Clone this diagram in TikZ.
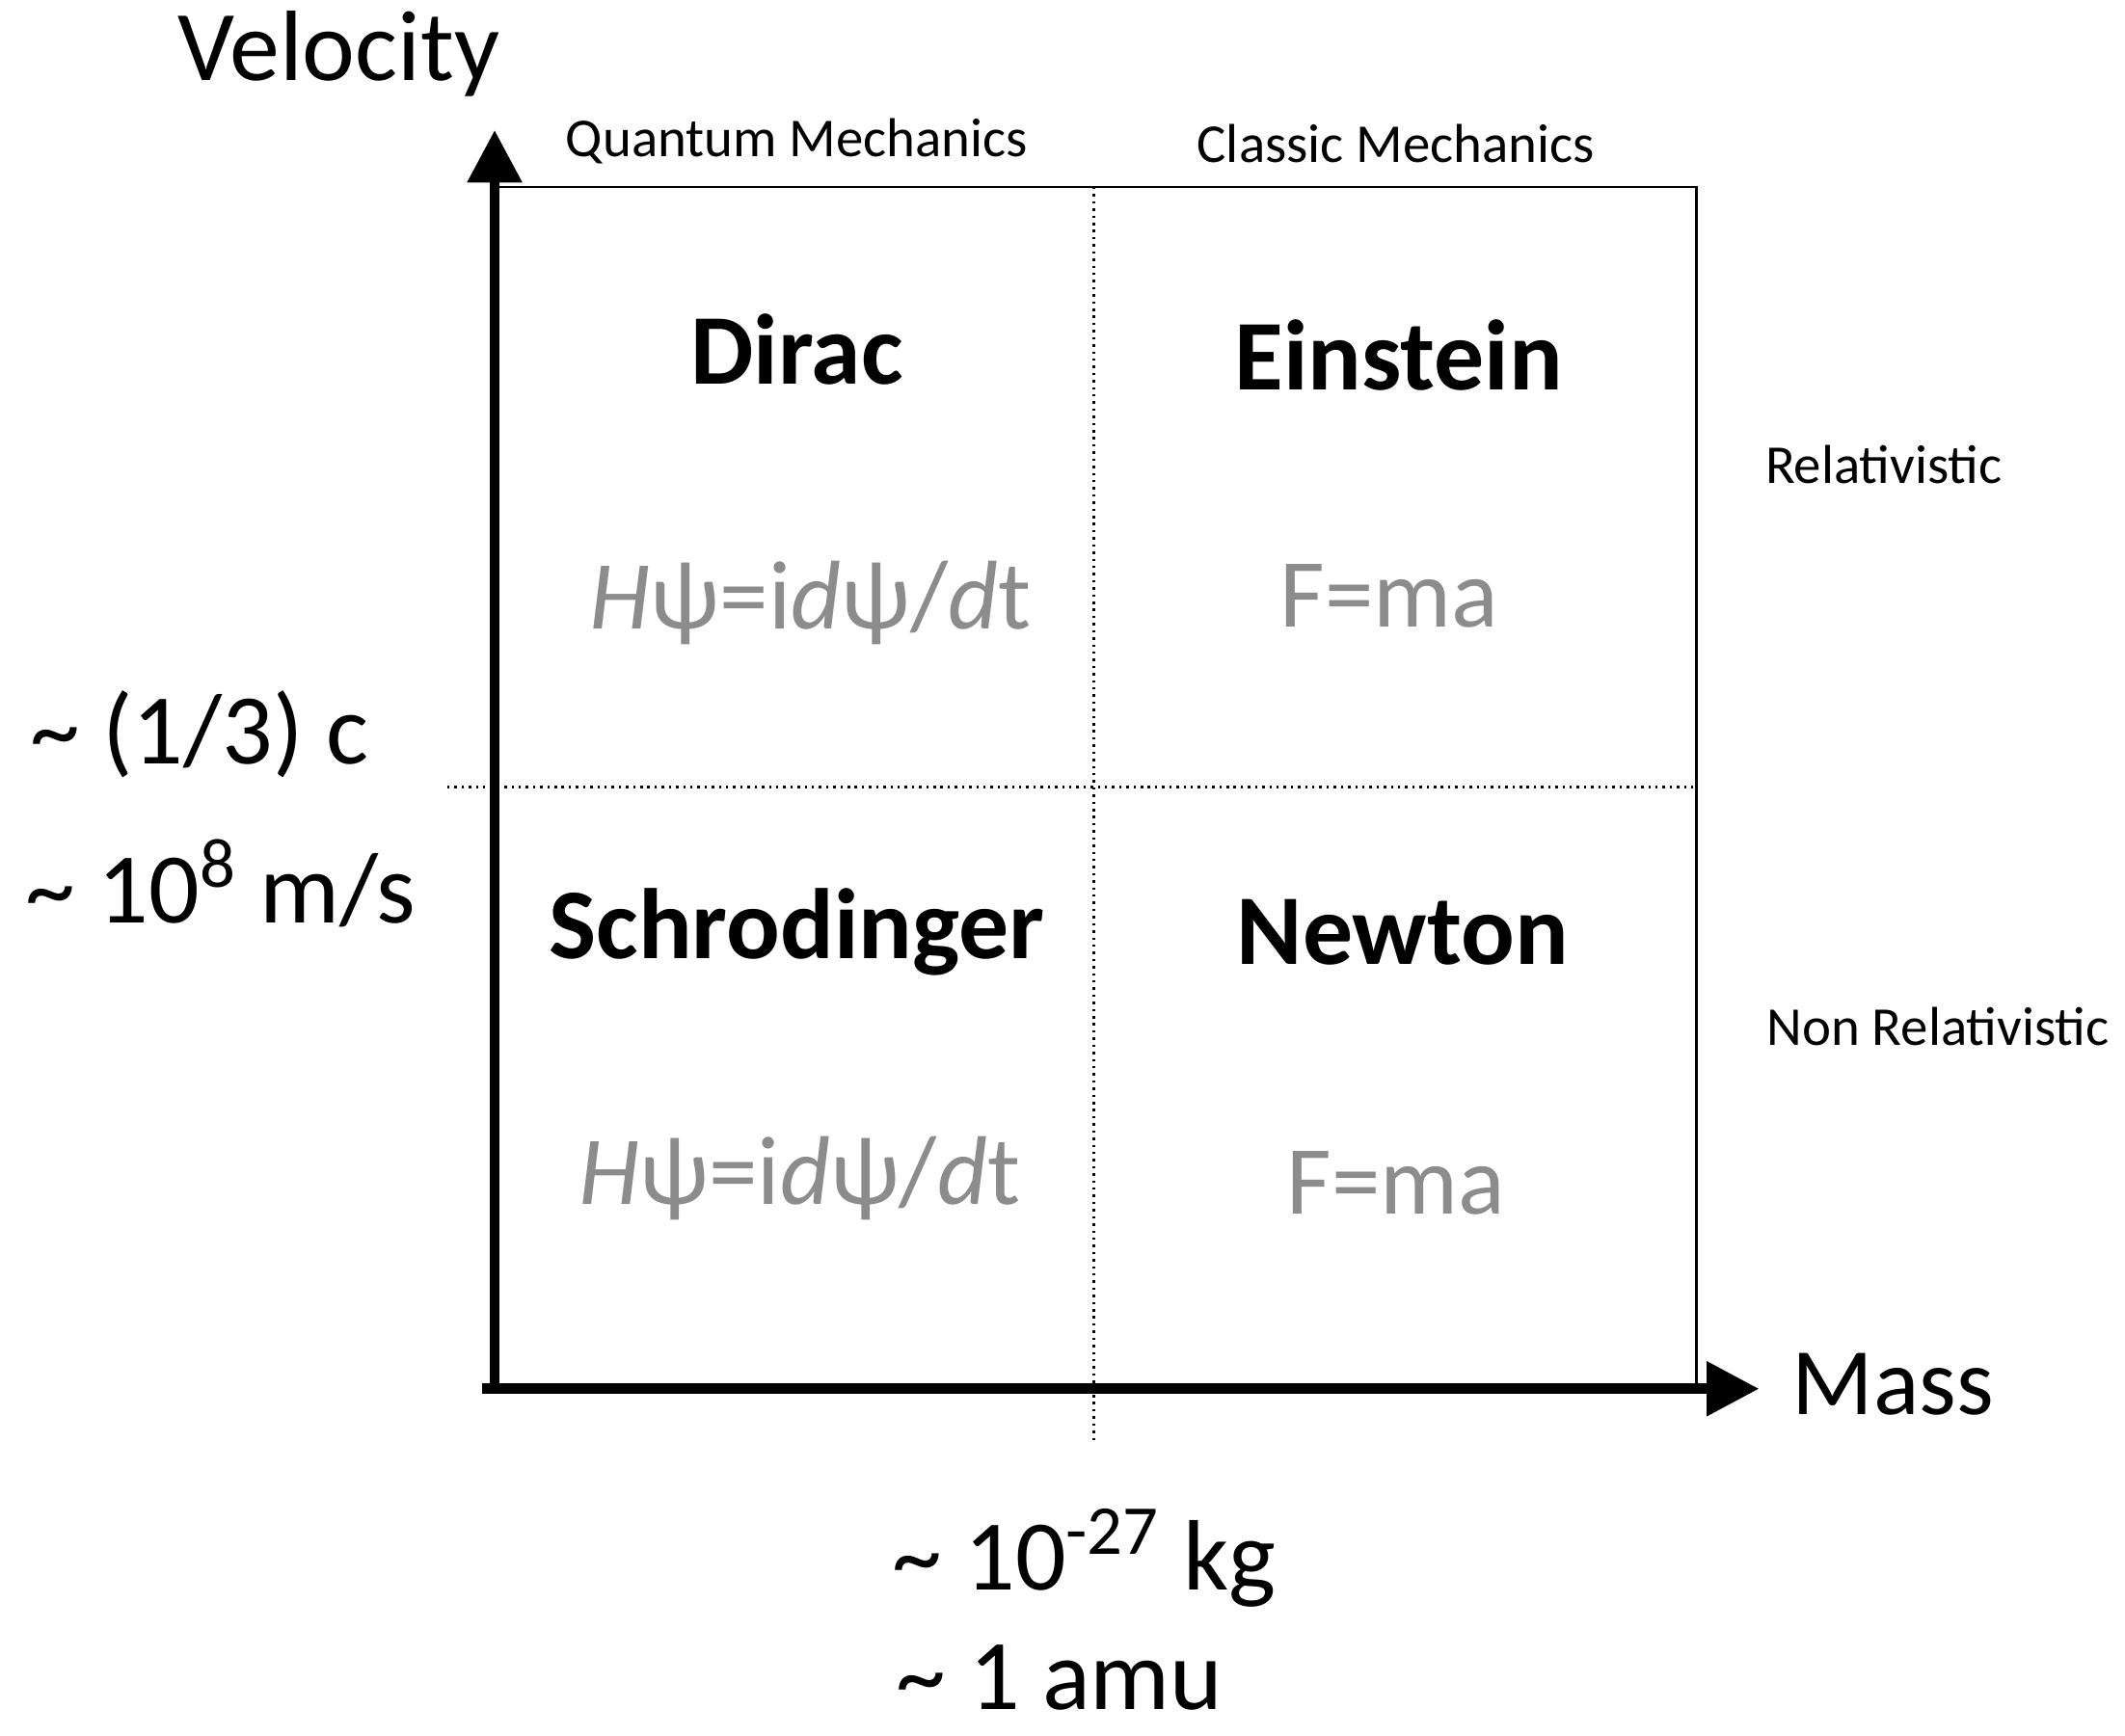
\documentclass[tikz,border=0pt]{standalone}
\usepackage{fontspec}
\setmainfont{Carlito}
\usetikzlibrary{arrows.meta}
\begin{document}
\begin{tikzpicture}[x=0.01cm,y=-0.01cm,
  big/.style={font=\fontsize{21}{25}\selectfont},
  small/.style={font=\fontsize{11.5}{14}\selectfont},
  title/.style={font=\fontsize{21}{25}\selectfont\bfseries},
  eq/.style={font=\fontsize{20.5}{24}\selectfont,text=black!45},
  axis/.style={line width=2.2pt,-{Triangle[length=11pt,width=11pt]}},
  grid/.style={densely dotted,line width=0.5pt}]
\useasboundingbox (0,0) rectangle (1568,1281);
\coordinate (ytop) at (365,96);
\coordinate (xend) at (1298,1025);
\draw[line width=0.6pt] (365,138) rectangle (1252,1025);
\draw[grid] (807,138) -- (807,1065);
\draw[grid] (330,581) -- (1252,581);
\draw[axis] (365,1028) -- (ytop);
\draw[axis] (356,1025) -- (xend);
\node[big] (vel) at (250,40) {Velocity};
\node[font=\fontsize{20}{24}\selectfont,anchor=west] (mass) at (1310,1022) {Mass};
\node[small] (qm) at (588,104) {Quantum Mechanics};
\node[small] (cm) at (1030,106) {Classic Mechanics};
\node[small] (rel) at (1390,343) {Relativistic};
\node[small] (nrel) at (1430,758) {Non Relativistic};
\node[title] (dirac) at (588,258) {Dirac};
\node[title] (ein) at (1032,262) {Einstein};
\node[title] (sch) at (588,688) {Schrodinger};
\node[title] (newt) at (1035,688) {Newton};
\node[eq] (e1) at (598,445) {\textit{H}ψ=i\textit{d}ψ/\textit{d}t};
\node[eq] (e2) at (1025,440) {F=ma};
\node[eq] (e3) at (590,870) {\textit{H}ψ=i\textit{d}ψ/\textit{d}t};
\node[eq] (e4) at (1030,873) {F=ma};
\node[big] (c3) at (147,542) {\textasciitilde\ (1/3) c};
\node[big] (v8) at (163,652) {\textasciitilde\ 10\textsuperscript{8} m/s};
\node[big] (kg) at (800,1150) {\textasciitilde\ 10\textsuperscript{-27} kg};
\node[big] (amu) at (782,1238) {\textasciitilde\ 1 amu};
\end{tikzpicture}
\end{document}
